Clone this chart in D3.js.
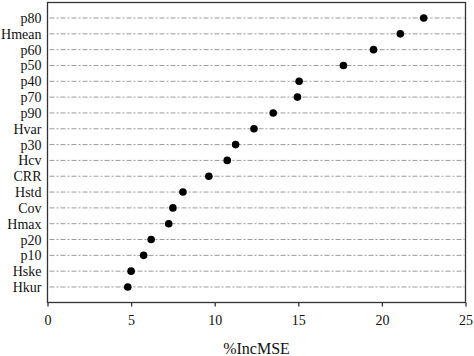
<!DOCTYPE html>
<html><head><meta charset="utf-8">
<script src="https://cdn.jsdelivr.net/npm/d3@7"></script>
<style>body{margin:0;background:#fff}svg{display:block}
svg text{font-family:"Liberation Serif","Times New Roman",Times,serif !important;}</style>
</head><body>
<script>
const categories = ["p80","Hmean","p60","p50","p40","p70","p90","Hvar","p30","Hcv","CRR","Hstd","Cov","Hmax","p20","p10","Hske","Hkur"];
const values = [22.5,21.1,19.5,17.7,15.05,14.95,13.5,12.35,11.25,10.75,9.65,8.1,7.5,7.25,6.2,5.75,5.0,4.8];
const xTicks = [0,5,10,15,20,25];
const xTitle = "%IncMSE";

const W = 474, H = 356;
const m = {left:47.5, right:8.5, top:2.5, bottom:53.5};
const svg = d3.select("body").append("svg").attr("width",W).attr("height",H);
const x = d3.scaleLinear().domain([0,25]).range([m.left, W-m.right]);
const y = d3.scalePoint().domain(categories).range([m.top, H-m.bottom]).padding(0.98);

// grid dashed lines
svg.append("g").selectAll("line").data(categories).join("line")
  .attr("x1", m.left+2).attr("x2", W-m.right-1)
  .attr("y1", d=>y(d)).attr("y2", d=>y(d))
  .attr("stroke","#9a9a9a").attr("stroke-width",1)
  .attr("stroke-dasharray","5,2,2,2");

// frame
svg.append("rect").attr("x",m.left).attr("y",m.top)
  .attr("width",W-m.right-m.left).attr("height",H-m.bottom-m.top)
  .attr("fill","none").attr("stroke","#333").attr("stroke-width",1.3);

// x axis
const xa = svg.append("g").attr("transform",`translate(0,${H-m.bottom})`)
  .call(d3.axisBottom(x).tickValues(xTicks).tickSize(4).tickPadding(9).tickFormat(d3.format("d")));
xa.select(".domain").remove();
xa.selectAll("line").attr("stroke","#333").attr("stroke-width",1.3);
xa.selectAll("text").attr("font-size",14).attr("fill","#111");

// y labels
const ya = svg.append("g").attr("transform",`translate(${m.left},0)`)
  .call(d3.axisLeft(y).tickSize(0).tickPadding(6));
ya.select(".domain").remove();
ya.selectAll("text").attr("font-size",14).attr("fill","#111");

// dots
svg.append("g").selectAll("circle").data(categories).join("circle")
  .attr("cx",(d,i)=>x(values[i])).attr("cy",d=>y(d)).attr("r",3.8).attr("fill","#000");

svg.append("text").attr("x",(m.left+W-m.right)/2).attr("y",354)
  .attr("text-anchor","middle").attr("font-size",16).attr("fill","#111")
  .text(xTitle);
</script>
</body></html>
